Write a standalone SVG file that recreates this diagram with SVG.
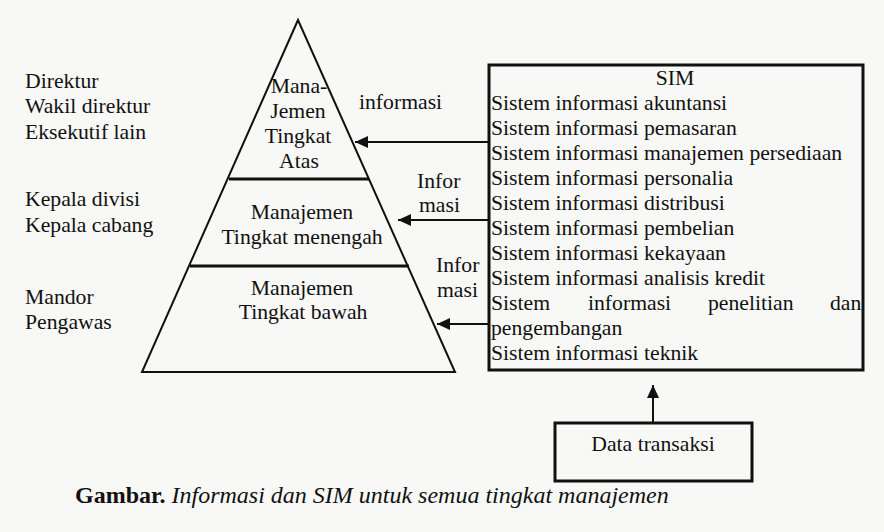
<svg xmlns="http://www.w3.org/2000/svg" width="884" height="532" viewBox="0 0 884 532">
<defs>
<marker id="ah" markerUnits="userSpaceOnUse" markerWidth="14" markerHeight="12" refX="13" refY="6" orient="auto">
<path d="M0,0 L13,6 L0,12 Z" fill="#111"/>
</marker>
</defs>
<rect width="884" height="532" fill="#f8f8f6"/>
<g id="labels-left" font-family="Liberation Serif, serif" font-size="21.7" fill="#111">
<text x="25" y="88">Direktur</text>
<text x="25" y="113">Wakil direktur</text>
<text x="25" y="139">Eksekutif lain</text>
<text x="25" y="206">Kepala divisi</text>
<text x="25" y="232">Kepala cabang</text>
<text x="25" y="304">Mandor</text>
<text x="25" y="329">Pengawas</text>
</g>
<g id="pyramid" fill="none" stroke="#111">
<path d="M298,20 L142,372 L455,372 Z" stroke-width="2"/>
<line x1="229" y1="179" x2="369" y2="179" stroke-width="3"/>
<line x1="190" y1="266" x2="409" y2="266" stroke-width="3"/>
</g>
<g id="node-atas" text-anchor="middle" font-family="Liberation Serif, serif" font-size="21.7" fill="#111">
<text x="299" y="93">Mana-</text>
<text x="298" y="118">Jemen</text>
<text x="298" y="143">Tingkat</text>
<text x="299" y="168">Atas</text>
</g>
<g id="node-menengah" text-anchor="middle" font-family="Liberation Serif, serif" font-size="21.7" fill="#111">
<text x="302" y="219">Manajemen</text>
<text x="302" y="244">Tingkat menengah</text>
</g>
<g id="node-bawah" text-anchor="middle" font-family="Liberation Serif, serif" font-size="21.7" fill="#111">
<text x="302" y="295">Manajemen</text>
<text x="303" y="319">Tingkat bawah</text>
</g>
<g id="node-sim" font-family="Liberation Serif, serif" font-size="21.7" fill="#111">
<rect x="489" y="65" width="374" height="305" fill="none" stroke="#111" stroke-width="3"/>
<text x="675" y="85" text-anchor="middle">SIM</text>
<text x="491" y="110">Sistem informasi akuntansi</text>
<text x="491" y="135">Sistem informasi pemasaran</text>
<text x="491" y="160">Sistem informasi manajemen persediaan</text>
<text x="491" y="185">Sistem informasi personalia</text>
<text x="491" y="210">Sistem informasi distribusi</text>
<text x="491" y="235">Sistem informasi pembelian</text>
<text x="491" y="260">Sistem informasi kekayaan</text>
<text x="491" y="285">Sistem informasi analisis kredit</text>
<text y="310"><tspan x="491">Sistem</tspan><tspan x="588">informasi</tspan><tspan x="708">penelitian</tspan><tspan x="830">dan</tspan></text>
<text x="491" y="335">pengembangan</text>
<text x="491" y="360">Sistem informasi teknik</text>
</g>
<g id="node-data" font-family="Liberation Serif, serif" font-size="21.7" fill="#111">
<rect x="555" y="423" width="197" height="58" fill="none" stroke="#111" stroke-width="3"/>
<text x="653" y="451" text-anchor="middle">Data transaksi</text>
</g>
<g id="connectors">
<g stroke="#111" stroke-width="2" fill="none">
<line x1="490" y1="142" x2="355" y2="142" marker-end="url(#ah)"/>
<line x1="490" y1="220" x2="398" y2="220" marker-end="url(#ah)"/>
<line x1="490" y1="324" x2="437" y2="324" marker-end="url(#ah)"/>
<line x1="653" y1="423" x2="653" y2="385" marker-end="url(#ah)"/>
</g>
<g font-family="Liberation Serif, serif" font-size="21.7" fill="#111">
<text x="359" y="109">informasi</text>
<text x="417" y="188">Infor</text>
<text x="419" y="212">masi</text>
<text x="436" y="272">Infor</text>
<text x="437" y="297">masi</text>
</g>
</g>
<g id="caption" font-family="Liberation Serif, serif" font-size="24" fill="#111">
<text x="75" y="503"><tspan font-weight="bold">Gambar.</tspan> <tspan font-style="italic">Informasi dan SIM untuk semua tingkat manajemen</tspan></text>
</g>
</svg>
